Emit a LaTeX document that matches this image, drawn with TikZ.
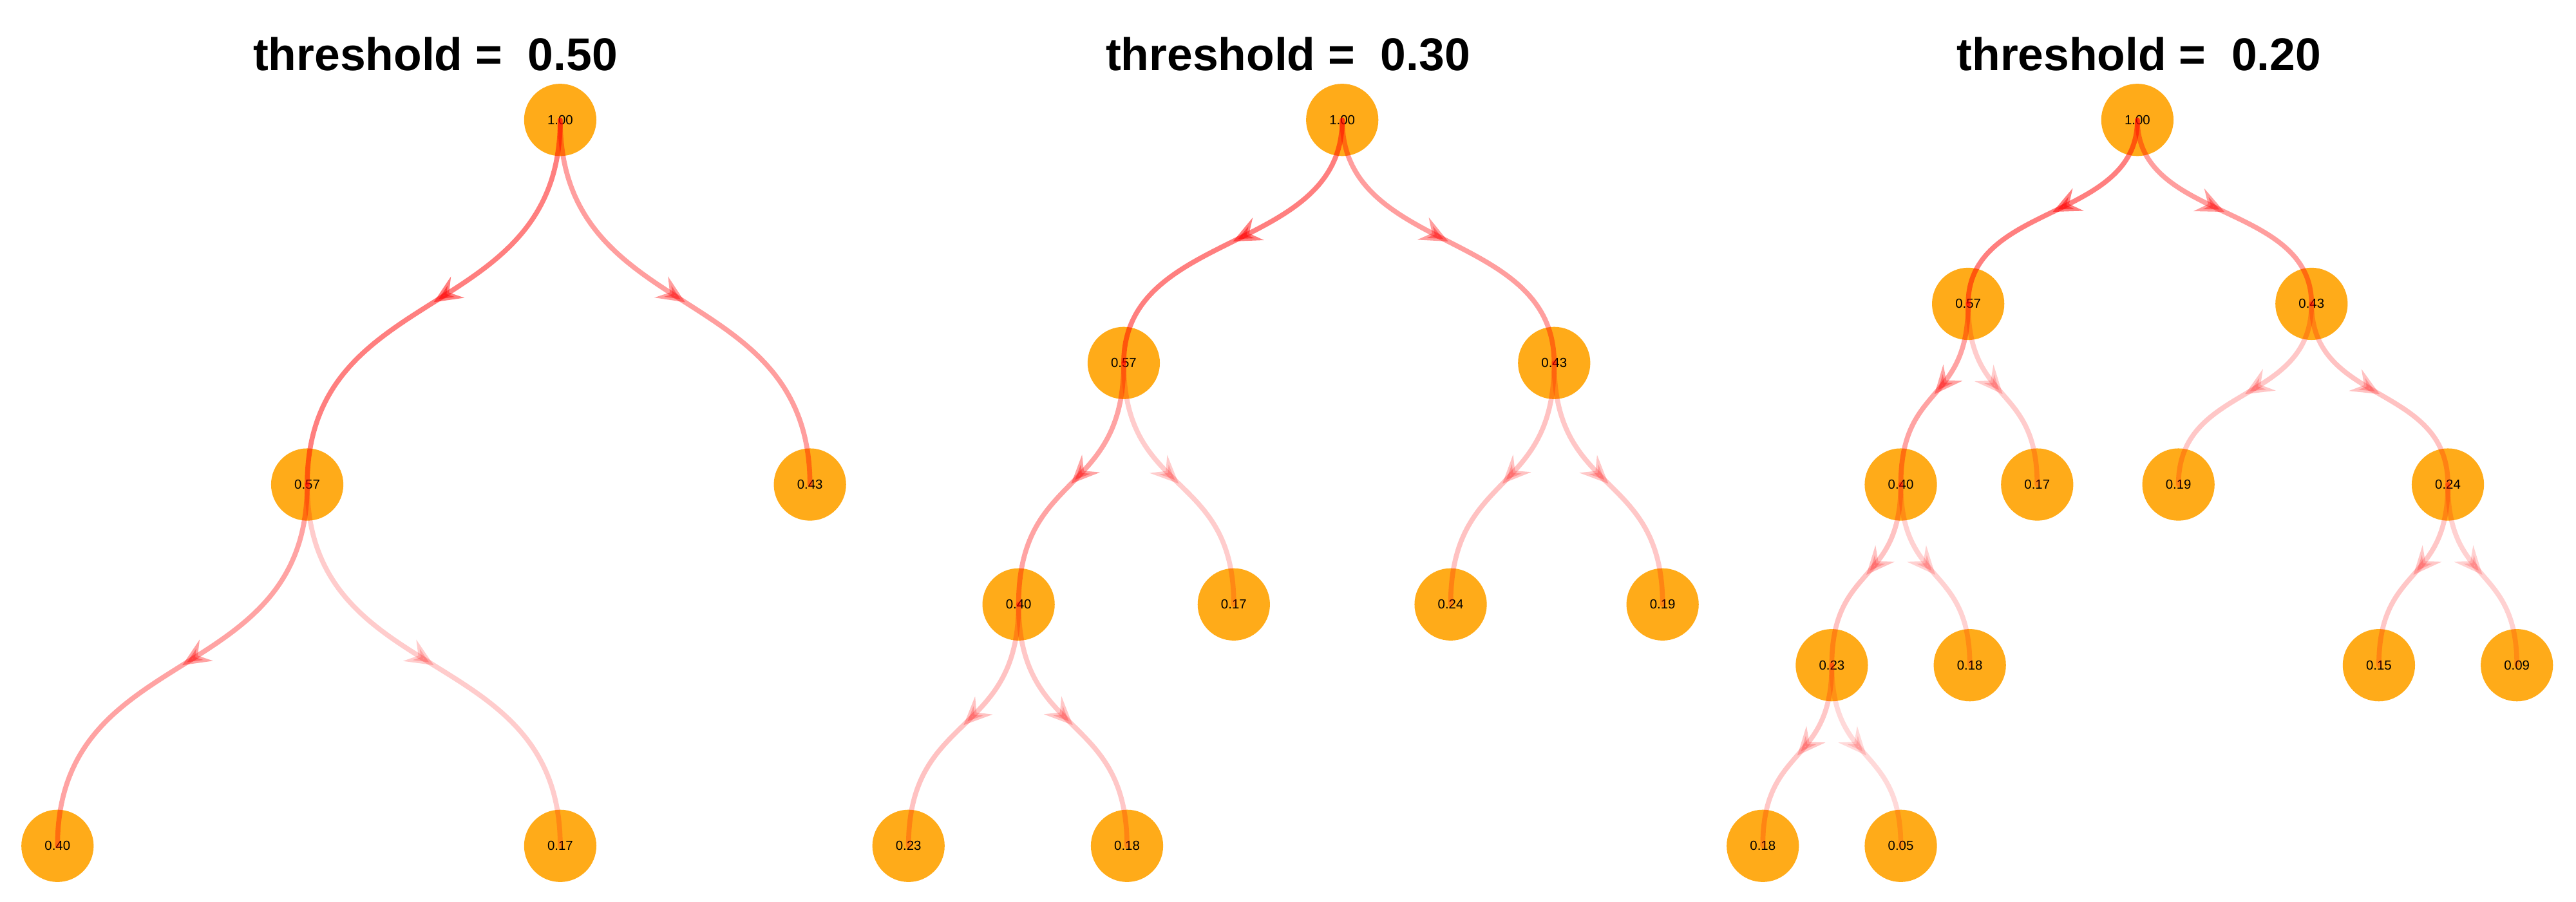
\documentclass[tikz,border=0pt]{standalone}
\usepackage{fontspec}
\setmainfont{Liberation Sans}
\usetikzlibrary{arrows.meta,decorations.markings}
\definecolor{nodeor}{RGB}{255,171,25}
\tikzset{
  nd/.style={circle,fill=nodeor,minimum size=44pt,inner sep=0pt,font=\fontsize{8}{9}\selectfont},
  ttl/.style={font=\fontsize{28}{32}\selectfont\bfseries},
  edge/.style={draw=red,line width=3pt,line cap=round,postaction={decorate},
    decoration={markings,mark=at position 0.5 with {\arrow[red]{Stealth[length=17pt,width=15pt,inset=6pt]}}}}
}
\newcommand\edg[4]{\draw[edge,opacity=#4] (#1.center) .. controls +(0,#3) and +(0,-#3) .. (#2.center);}
\begin{document}
\begin{tikzpicture}[x=1pt,y=-1pt]
\useasboundingbox (0,0) rectangle (1568,549);
% panel 1
\node[ttl] (t1) at (265,33) {threshold =\ \ 0.50};
\node[nd] (a0) at (341,73) {1.00};
\node[nd] (a1) at (187,295) {0.57};
\node[nd] (a2) at (493,295) {0.43};
\node[nd] (a3) at (35,515) {0.40};
\node[nd] (a4) at (341,515) {0.17};
\edg{a0}{a1}{125}{0.5}
\edg{a0}{a2}{125}{0.38}
\edg{a1}{a3}{125}{0.36}
\edg{a1}{a4}{125}{0.2}
% panel 2
\node[ttl] (t2) at (784,33) {threshold =\ \ 0.30};
\node[nd] (b0) at (817,73) {1.00};
\node[nd] (b1) at (684,221) {0.57};
\node[nd] (b2) at (946,221) {0.43};
\node[nd] (b3) at (620,368) {0.40};
\node[nd] (b4) at (751,368) {0.17};
\node[nd] (b5) at (883,368) {0.24};
\node[nd] (b6) at (1012,368) {0.19};
\node[nd] (b7) at (553,515) {0.23};
\node[nd] (b8) at (686,515) {0.18};
\edg{b0}{b1}{82}{0.5}
\edg{b0}{b2}{82}{0.38}
\edg{b1}{b3}{82}{0.36}
\edg{b1}{b4}{82}{0.2}
\edg{b2}{b5}{82}{0.24}
\edg{b2}{b6}{82}{0.22}
\edg{b3}{b7}{82}{0.24}
\edg{b3}{b8}{82}{0.22}
% panel 3
\node[ttl] (t3) at (1302,33) {threshold =\ \ 0.20};
\node[nd] (c0) at (1301,73) {1.00};
\node[nd] (c1) at (1198,185) {0.57};
\node[nd] (c2) at (1407,185) {0.43};
\node[nd] (c3) at (1157,295) {0.40};
\node[nd] (c4) at (1240,295) {0.17};
\node[nd] (c5) at (1326,295) {0.19};
\node[nd] (c6) at (1490,295) {0.24};
\node[nd] (c7) at (1115,405) {0.23};
\node[nd] (c8) at (1199,405) {0.18};
\node[nd] (c9) at (1448,405) {0.15};
\node[nd] (c10) at (1532,405) {0.09};
\node[nd] (c11) at (1073,515) {0.18};
\node[nd] (c12) at (1157,515) {0.05};
\edg{c0}{c1}{62}{0.5}
\edg{c0}{c2}{62}{0.38}
\edg{c1}{c3}{62}{0.36}
\edg{c1}{c4}{62}{0.2}
\edg{c2}{c5}{62}{0.22}
\edg{c2}{c6}{62}{0.24}
\edg{c3}{c7}{62}{0.24}
\edg{c3}{c8}{62}{0.18}
\edg{c6}{c9}{62}{0.22}
\edg{c6}{c10}{62}{0.18}
\edg{c7}{c11}{62}{0.22}
\edg{c7}{c12}{62}{0.15}
\end{tikzpicture}
\end{document}
